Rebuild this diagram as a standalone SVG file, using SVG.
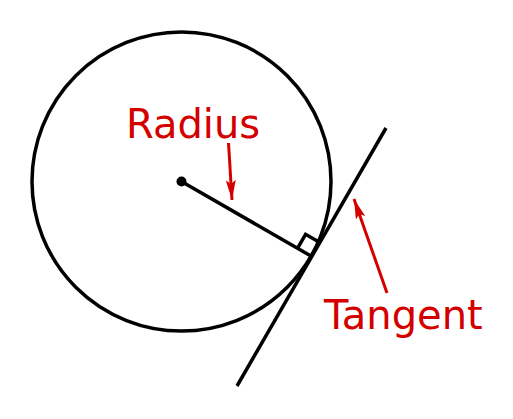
<svg xmlns="http://www.w3.org/2000/svg" width="513" height="419" viewBox="0 0 513 419">
<style>
.blk{fill:none;stroke:#000;stroke-width:3.5}
.red{fill:none;stroke:#d40000;stroke-width:3}
.lbl{font-family:"DejaVu Sans",sans-serif;font-size:40px;fill:#d40000}
</style>
<defs>
<marker id="ah" viewBox="0 0 20 10" refX="20" refY="5" markerWidth="20" markerHeight="10" markerUnits="userSpaceOnUse" orient="auto">
<path d="M0,0 L20,5 L0,10 L4,5 Z" fill="#d40000"/>
</marker>
</defs>
<g id="circle">
<circle cx="181.5" cy="181.5" r="149.5" class="blk"/>
</g>
<g id="center">
<circle cx="181.5" cy="181.5" r="5" fill="#000"/>
</g>
<g id="radius">
<line x1="181.5" y1="181.5" x2="311" y2="256" class="blk"/>
<path d="M297.6,248.2 L305.6,234.3 L319.4,242.3" class="blk"/>
</g>
<g id="tangent">
<line x1="237" y1="386" x2="386" y2="128" class="blk"/>
</g>
<g id="labels">
<text x="126" y="138" class="lbl">Radius</text>
<text x="324" y="329" class="lbl">Tangent</text>
</g>
<g id="connectors">
<line x1="228.5" y1="143" x2="232" y2="200" class="red" marker-end="url(#ah)"/>
<line x1="387" y1="293" x2="354" y2="199" class="red" marker-end="url(#ah)"/>
</g>
</svg>
